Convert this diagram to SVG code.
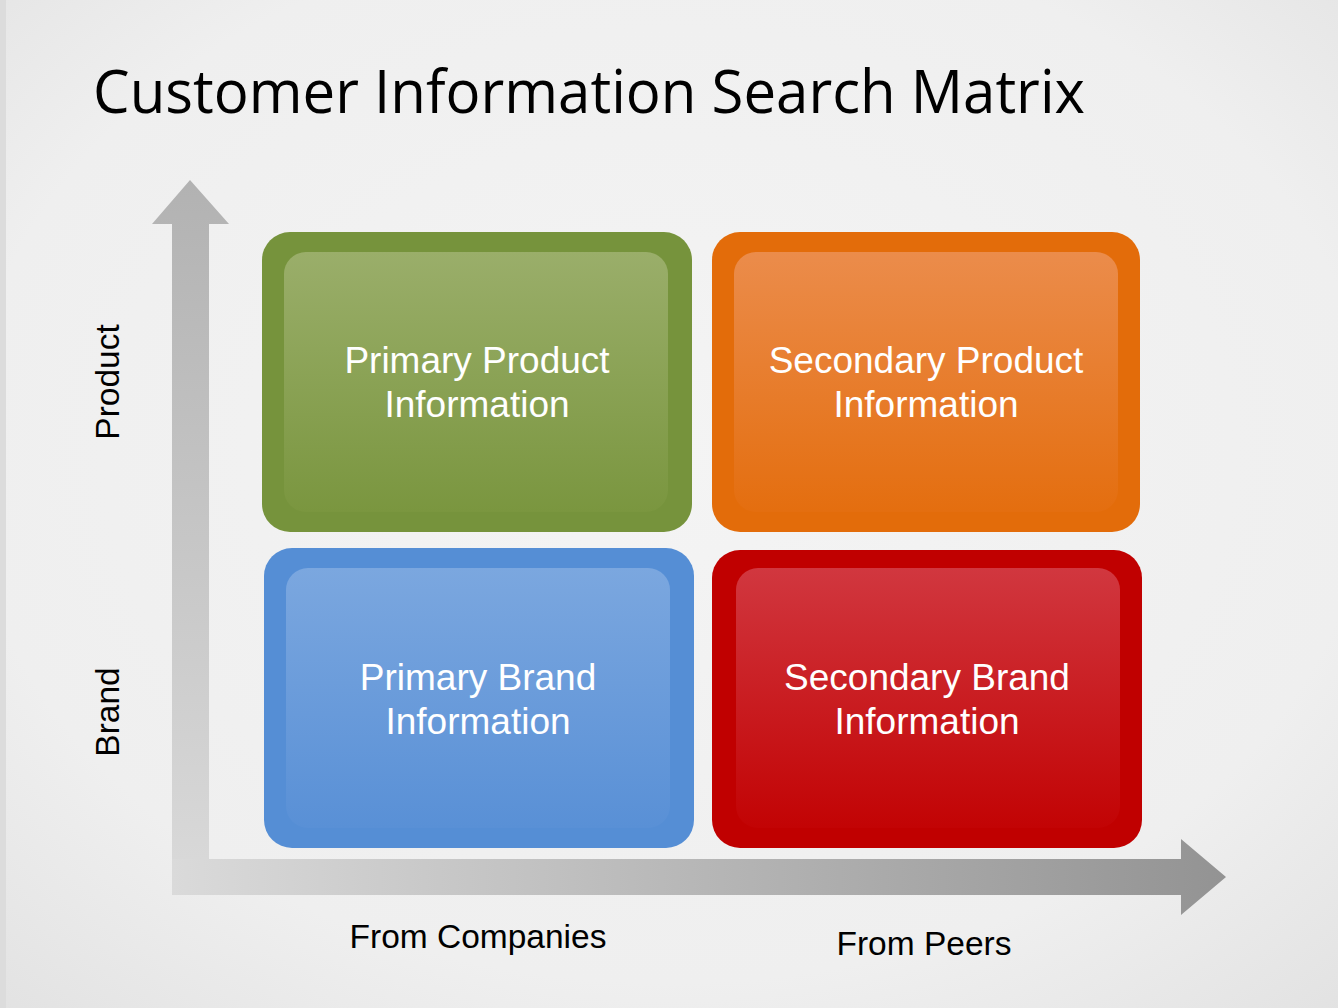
<svg xmlns="http://www.w3.org/2000/svg" width="1338" height="1008" viewBox="0 0 1338 1008">
<defs>
<radialGradient id="bg" cx="0.5" cy="0.45" r="0.75">
<stop offset="0" stop-color="#f4f4f4"/>
<stop offset="0.7" stop-color="#efefef"/>
<stop offset="1" stop-color="#e2e2e2"/>
</radialGradient>
<linearGradient id="vgrad" x1="0" y1="1" x2="0" y2="0">
<stop offset="0" stop-color="#dadada"/>
<stop offset="1" stop-color="#b2b2b2"/>
</linearGradient>
<linearGradient id="hgrad" x1="0" y1="0" x2="1" y2="0">
<stop offset="0" stop-color="#dadada"/>
<stop offset="1" stop-color="#939393"/>
</linearGradient>
<linearGradient id="gIn" x1="0" y1="0" x2="0" y2="1">
<stop offset="0" stop-color="#9aae6a"/>
<stop offset="1" stop-color="#7a963f"/>
</linearGradient>
<linearGradient id="oIn" x1="0" y1="0" x2="0" y2="1">
<stop offset="0" stop-color="#eb8c4b"/>
<stop offset="1" stop-color="#e46e0f"/>
</linearGradient>
<linearGradient id="bIn" x1="0" y1="0" x2="0" y2="1">
<stop offset="0" stop-color="#7ba7df"/>
<stop offset="1" stop-color="#5990d6"/>
</linearGradient>
<linearGradient id="rIn" x1="0" y1="0" x2="0" y2="1">
<stop offset="0" stop-color="#d1373f"/>
<stop offset="1" stop-color="#c20304"/>
</linearGradient>
</defs>
<style>
.lbl{font-family:"Liberation Sans",Arial,sans-serif;fill:#ffffff;font-size:37px;text-anchor:middle}
.ax{font-family:"Liberation Sans",Arial,sans-serif;fill:#000000;font-size:33.5px;text-anchor:middle}
.title{font-family:"Open Sans","Noto Sans",sans-serif;fill:#000000;font-size:60px}
</style>
<rect x="0" y="0" width="1338" height="1008" fill="url(#bg)"/>
<rect x="0" y="0" width="6" height="1008" fill="#dcdcdc"/>
<text class="title" x="93" y="113" textLength="992" lengthAdjust="spacingAndGlyphs">Customer Information Search Matrix</text>
<g id="axes">
<polygon points="172,895 172,224 152,224 190,180 229,224 209,224 209,895" fill="url(#vgrad)"/>
<polygon points="209,859 1181,859 1181,839 1226,877 1181,915 1181,895 172,895 172,859" fill="url(#hgrad)"/>
</g>
<g id="node-primary-product">
<rect x="262" y="232" width="430" height="300" rx="28" fill="#76933c"/>
<rect x="284" y="252" width="384" height="260" rx="22" fill="url(#gIn)"/>
<text class="lbl" x="477" y="373">Primary Product</text>
<text class="lbl" x="477" y="417">Information</text>
</g>
<g id="node-secondary-product">
<rect x="712" y="232" width="428" height="300" rx="28" fill="#e36c0a"/>
<rect x="734" y="252" width="384" height="260" rx="22" fill="url(#oIn)"/>
<text class="lbl" x="926" y="373">Secondary Product</text>
<text class="lbl" x="926" y="417">Information</text>
</g>
<g id="node-primary-brand">
<rect x="264" y="548" width="430" height="300" rx="28" fill="#558ed5"/>
<rect x="286" y="568" width="384" height="260" rx="22" fill="url(#bIn)"/>
<text class="lbl" x="478" y="690">Primary Brand</text>
<text class="lbl" x="478" y="734">Information</text>
</g>
<g id="node-secondary-brand">
<rect x="712" y="550" width="430" height="298" rx="28" fill="#c00000"/>
<rect x="736" y="568" width="384" height="260" rx="22" fill="url(#rIn)"/>
<text class="lbl" x="927" y="690">Secondary Brand</text>
<text class="lbl" x="927" y="734">Information</text>
</g>
<text class="ax" transform="translate(119,382) rotate(-90)">Product</text>
<text class="ax" transform="translate(119,712) rotate(-90)">Brand</text>
<text class="ax" x="478" y="948">From Companies</text>
<text class="ax" x="924" y="955">From Peers</text>
</svg>
